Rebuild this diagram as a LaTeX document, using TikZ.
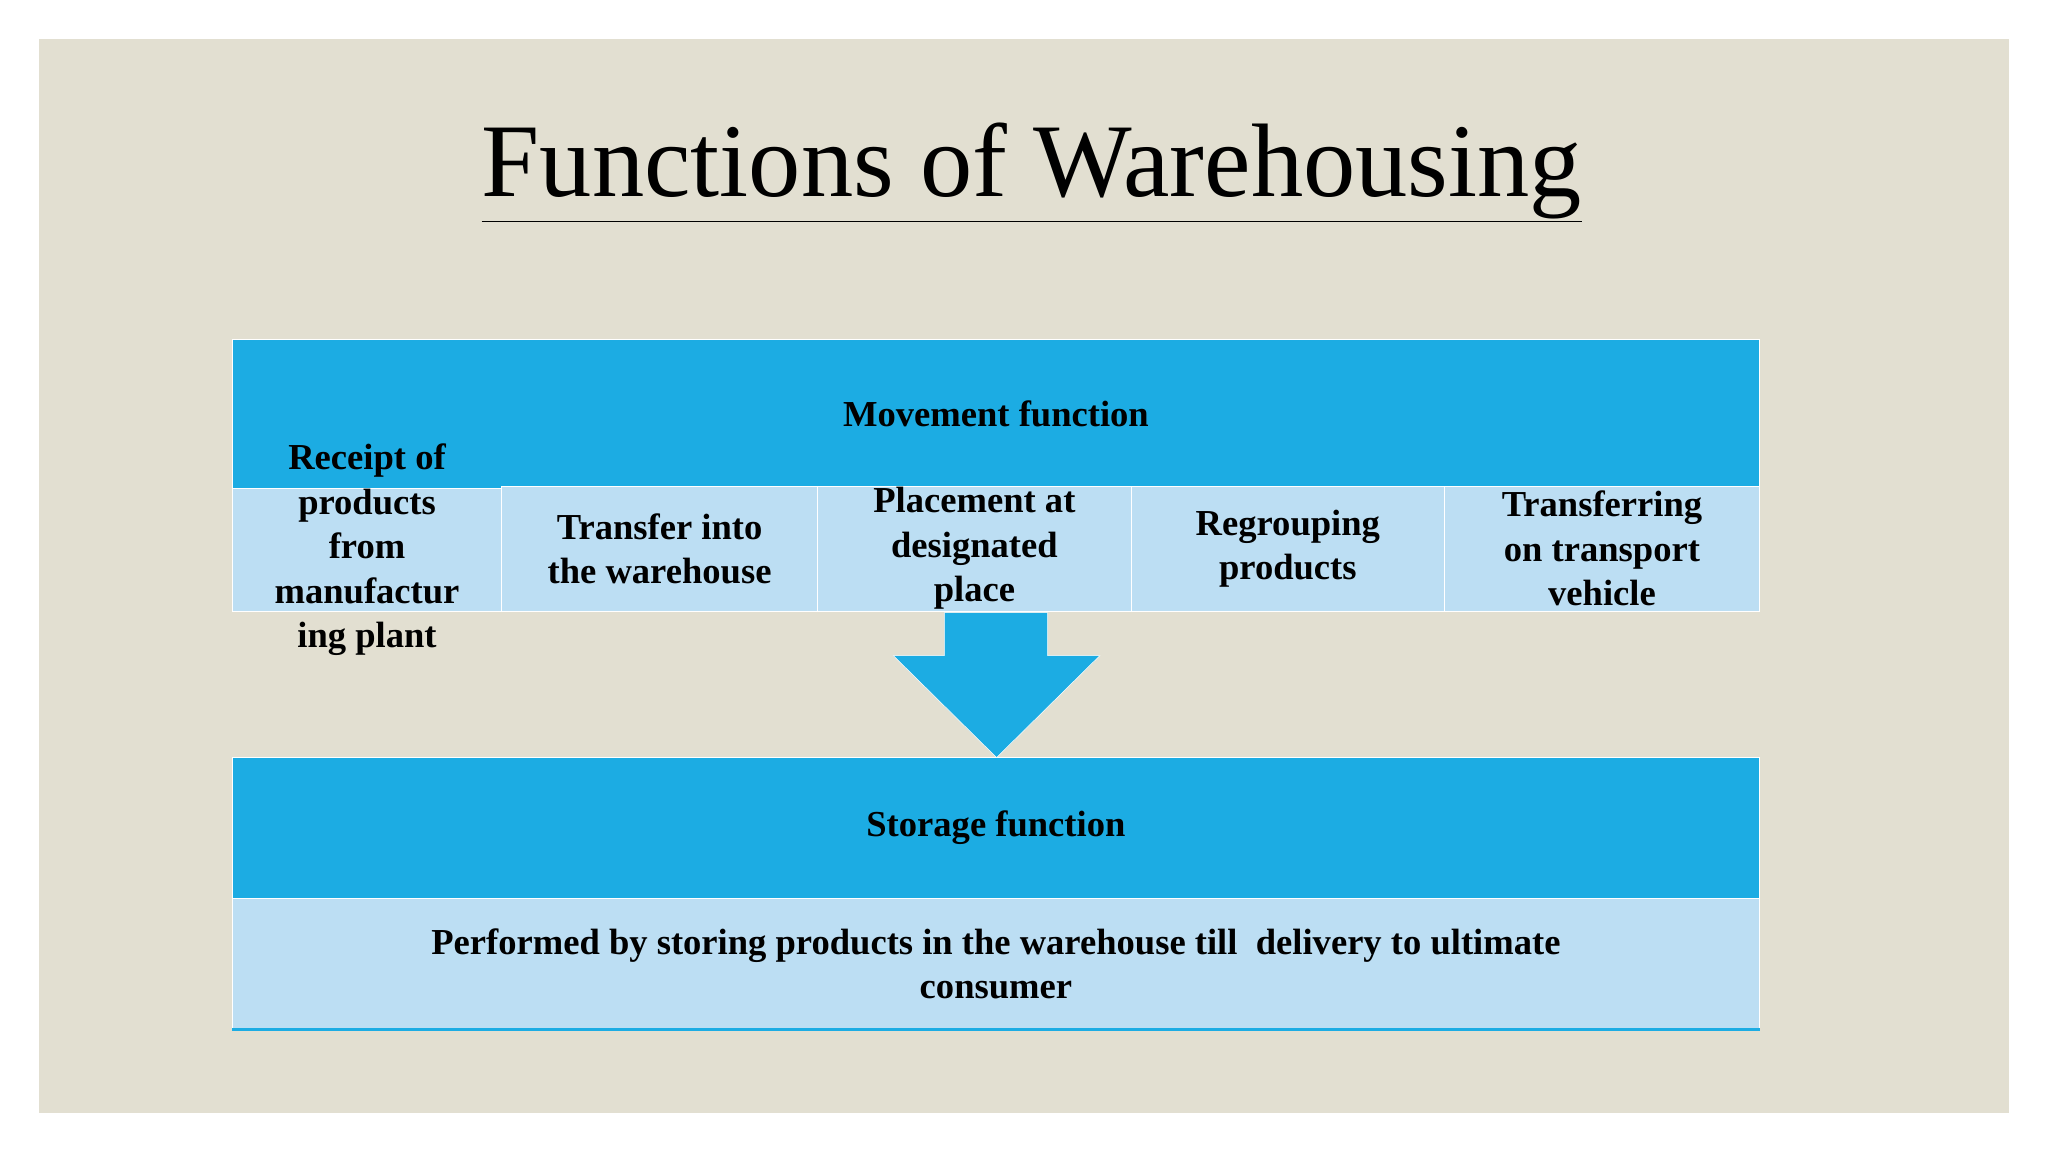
\documentclass[tikz,border=0pt]{standalone}
\usepackage{fontspec}
\setmainfont{Liberation Serif}
\usetikzlibrary{positioning}
\definecolor{panel}{HTML}{E2DFD1}
\definecolor{band}{HTML}{1CACE3}
\definecolor{cell}{HTML}{BCDEF3}
\begin{document}
\begin{tikzpicture}[x=1pt,y=-1pt]
 \tikzstyle{head}=[fill=band, draw=white, inner sep=0pt, align=center, font=\fontsize{28}{34}\selectfont\bfseries]
 \tikzstyle{tache}=[fill=cell, draw=white, inner sep=0pt, align=center, font=\fontsize{28}{34}\selectfont\bfseries]
 %
 \useasboundingbox (0,0) rectangle (1568,882);
 \fill[panel] (30,30) rectangle (1538,852);
 \node[font=\fontsize{80}{90}\selectfont] (title) at (790,132) {\underline{Functions of Warehousing}};
 %
 \node[head, minimum width=1169, minimum height=114] (move) at (762.5,317) {Movement function};
 \node[tache, minimum width=206, minimum height=94] (c1) at (281,421) {};
 \node[tache, minimum width=242, minimum height=96] (c2) at (505,420) {Transfer into\\the warehouse};
 \node[tache, minimum width=240, minimum height=96] (c3) at (746,420) {Placement at\\designated\\place};
 \node[tache, minimum width=240, minimum height=96] (c4) at (986,420) {Regrouping\\products};
 \node[tache, minimum width=241, minimum height=96] (c5) at (1226.5,420) {Transferring\\on transport\\vehicle};
 \node[align=center, font=\fontsize{28}{34}\selectfont\bfseries] (c1text) at (281,421) {Receipt of\\products\\from\\manufactur\\ing plant};
 %
 \node[head, minimum width=1169, minimum height=108] (store) at (762.5,634) {Storage function};
 \node[tache, minimum width=1169, minimum height=100] (perform) at (762.5,738) {Performed by storing products in the warehouse till\ \ delivery to ultimate\\consumer};
 \draw[band, line width=2pt] (perform.south west)--(perform.south east);
 %%
 \fill[band, draw=white] (723,469)--(802,469)--(802,502)--(842,502)--(763,580)--(684,502)--(723,502)--cycle;
\end{tikzpicture}
\end{document}
